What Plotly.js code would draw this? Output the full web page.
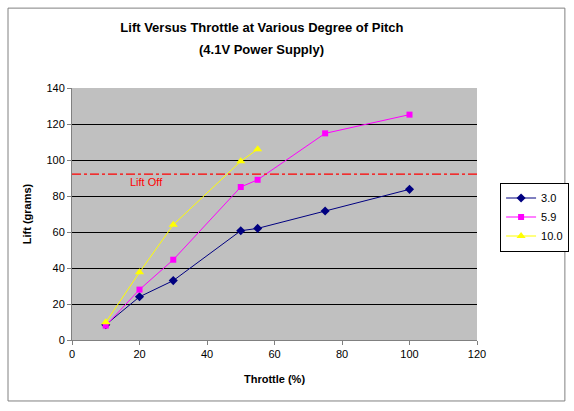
<!DOCTYPE html>
<html>
<head>
<meta charset="utf-8">
<script src="https://cdn.plot.ly/plotly-3.0.1.min.js"></script>
<style>
  html, body { margin: 0; padding: 0; background: #fff; }
  #chart { width: 574px; height: 411px; }
</style>
</head>
<body>
<div id="chart"></div>
<script>
// throttle settings (%) used for each pitch
var throttle = [10, 20, 30, 50, 55, 75, 100];
var throttleHigh = [10, 20, 30, 50, 55];

// lift in grams for each pitch
var lift30 = [8.5, 24, 33, 60.7, 62, 71.7, 83.7];
var lift59 = [8, 28, 44.6, 85, 89, 114.8, 125.2];
var lift100 = [9.8, 37.6, 64, 99.3, 106];

var pitchNames = ['3.0', '5.9', '10.0'];
var liftOff = 92.2;

var xTicks = [0, 20, 40, 60, 80, 100, 120];
var yTicks = [0, 20, 40, 60, 80, 100, 120, 140];

var font = 'Liberation Sans, Arial, sans-serif';

var trace1 = {
	x: throttle,
	y: lift30,
	name: pitchNames[0],
	mode: 'lines+markers',
	line: { color: '#000080', width: 1 },
	marker: { symbol: 'diamond', color: '#000080', size: 7 }
};

var trace2 = {
	x: throttle,
	y: lift59,
	name: pitchNames[1],
	mode: 'lines+markers',
	line: { color: '#ff00ff', width: 1 },
	marker: { symbol: 'square', color: '#ff00ff', size: 6 }
};

var trace3 = {
	x: throttleHigh,
	y: lift100,
	name: pitchNames[2],
	mode: 'lines+markers',
	line: { color: '#ffff00', width: 1 },
	marker: { symbol: 'triangle-up', color: '#ffff00', size: 8 }
};

var layout = {
	width: 574,
	height: 411,
	margin: { l: 72, r: 97, t: 88, b: 71, autoexpand: false },
	paper_bgcolor: '#ffffff',
	plot_bgcolor: '#c0c0c0',
	font: { family: font, size: 11, color: '#000' },
	showlegend: true,
	title: {
		text: '<b>Lift Versus Throttle at Various Degree of Pitch</b>',
		font: { family: font, size: 13, color: '#000' },
		xref: 'paper',
		x: 0.469,
		xanchor: 'center',
		yref: 'container',
		y: 0.932,
		yanchor: 'middle'
	},
	xaxis: {
		range: [0, 120],
		tickvals: xTicks,
		ticktext: xTicks.map(String),
		ticks: 'outside',
		ticklen: 4,
		tickcolor: '#808080',
		showline: true,
		linecolor: '#808080',
		showgrid: false,
		zeroline: false,
		fixedrange: true,
		title: { text: '<b>Throttle (%)</b>', font: { family: font, size: 11 }, standoff: 16 }
	},
	yaxis: {
		range: [0, 140],
		tickvals: yTicks,
		ticktext: yTicks.map(String),
		ticks: 'outside',
		ticklen: 4,
		tickcolor: '#808080',
		showline: true,
		linecolor: '#808080',
		showgrid: true,
		gridcolor: '#000000',
		gridwidth: 1,
		zeroline: false,
		fixedrange: true,
		title: { text: '<b>Lift (grams)</b>', font: { family: font, size: 11 }, standoff: 12 }
	},
	legend: {
		x: 1.057,
		xanchor: 'left',
		y: 0.625,
		yanchor: 'top',
		bgcolor: '#ffffff',
		bordercolor: '#000000',
		borderwidth: 1,
		font: { family: font, size: 11 },
		itemwidth: 30,
		tracegroupgap: 0
	},
	shapes: [
		// lift off threshold
		{
			type: 'line', xref: 'paper', x0: 0, x1: 1, yref: 'y', y0: liftOff, y1: liftOff,
			line: { color: '#ff0000', width: 1.2, dash: 'dashdot' }
		},
		// chart border
		{
			type: 'rect', xref: 'paper', yref: 'paper',
			x0: -0.158, x1: 1.217, y0: -0.242, y1: 1.317,
			line: { color: '#808080', width: 1 }
		}
	],
	annotations: [
		{
			text: '<b>(4.1V Power Supply)</b>', xref: 'paper', yref: 'paper',
			x: 0.469, y: 1.152, xanchor: 'center', yanchor: 'middle',
			showarrow: false, font: { family: font, size: 13, color: '#000' }
		},
		{
			text: 'Lift Off', x: 22, y: 88, xref: 'x', yref: 'y',
			showarrow: false, font: { family: font, size: 11, color: '#ff0000' }
		}
	]
};

Plotly.newPlot('chart', [trace1, trace2, trace3], layout, { displayModeBar: false, staticPlot: true });
</script>
</body>
</html>
